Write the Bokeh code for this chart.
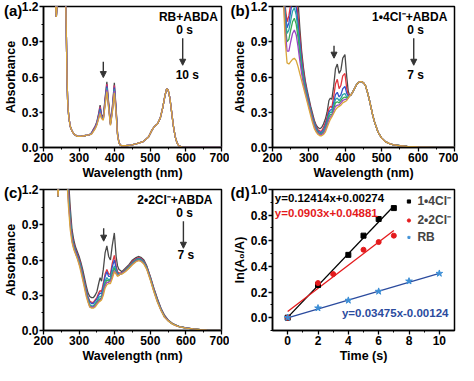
from bokeh.plotting import figure
from bokeh.layouts import column, row
from bokeh.models import Range1d, FixedTicker, Label, Arrow, NormalHead, Legend, LegendItem, CustomJSTickFormatter
from bokeh.core.properties import value
from bokeh.embed import file_html
from bokeh.resources import INLINE

FONT = "Liberation Sans"

# ---------------- data ----------------
mid_wl = [330, 335, 340, 345, 350, 355, 359, 363, 368, 373, 378, 383, 388, 393, 399, 404, 408, 412, 416]

a_left_wl = [230, 233, 236, 239, 242, 246, 255, 262, 264, 266, 268, 271, 275, 280, 287, 296, 305, 315, 323]
a_left_abs = [1.6, 1.25, 1.11, 1.25, 1.5, 1.6, 1.6, 1.3, 1.0, 0.6, 0.38, 0.26, 0.18, 0.14, 0.11, 0.095, 0.095, 0.1, 0.105]
a_mid = [
    [0.11, 0.125, 0.155, 0.18, 0.22, 0.29, 0.36, 0.28, 0.26, 0.42, 0.56, 0.38, 0.21, 0.33, 0.55, 0.33, 0.12, 0.04, 0.02],
    [0.11, 0.122, 0.15, 0.175, 0.213, 0.28, 0.345, 0.272, 0.253, 0.405, 0.54, 0.37, 0.205, 0.32, 0.53, 0.32, 0.117, 0.04, 0.02],
    [0.11, 0.12, 0.146, 0.17, 0.207, 0.27, 0.33, 0.265, 0.247, 0.39, 0.52, 0.36, 0.2, 0.31, 0.51, 0.31, 0.114, 0.04, 0.02],
    [0.11, 0.118, 0.142, 0.166, 0.202, 0.262, 0.315, 0.258, 0.242, 0.38, 0.505, 0.35, 0.196, 0.302, 0.495, 0.3, 0.111, 0.04, 0.02],
    [0.11, 0.116, 0.139, 0.162, 0.197, 0.254, 0.302, 0.252, 0.237, 0.37, 0.49, 0.342, 0.192, 0.295, 0.48, 0.292, 0.108, 0.04, 0.02],
    [0.11, 0.114, 0.136, 0.158, 0.192, 0.246, 0.29, 0.246, 0.232, 0.36, 0.475, 0.334, 0.188, 0.288, 0.465, 0.285, 0.105, 0.04, 0.02],
]
a_right_wl = [420, 430, 445, 460, 480, 495, 505, 512, 520, 528, 535, 541, 546, 550, 555, 560, 565, 570, 575, 580, 590, 700]
a_right_abs = [0.015, 0.015, 0.02, 0.03, 0.05, 0.09, 0.15, 0.18, 0.2, 0.25, 0.34, 0.44, 0.5, 0.49, 0.42, 0.3, 0.18, 0.09, 0.04, 0.015, 0.003, 0.0]

b_left_wl = [230, 235, 240, 245, 250, 255, 260, 265, 270, 275, 280, 285, 290, 295, 300, 305, 310, 315, 320, 325]
b_left = [
    [1.6, 1.4, 1.3, 1.35, 1.45, 1.55, 1.6, 1.45, 1.25, 1.02, 0.82, 0.68, 0.57, 0.49, 0.42, 0.35, 0.29, 0.23, 0.19, 0.17],
    [1.5, 1.2, 1.07, 1.12, 1.22, 1.32, 1.35, 1.27, 1.12, 0.95, 0.78, 0.65, 0.55, 0.47, 0.4, 0.33, 0.27, 0.22, 0.18, 0.15],
    [1.45, 1.15, 1.02, 1.06, 1.16, 1.25, 1.28, 1.2, 1.06, 0.9, 0.74, 0.62, 0.53, 0.46, 0.39, 0.32, 0.26, 0.21, 0.17, 0.14],
    [1.4, 1.1, 0.97, 1.0, 1.08, 1.16, 1.19, 1.13, 1.0, 0.85, 0.7, 0.6, 0.51, 0.44, 0.37, 0.31, 0.25, 0.2, 0.16, 0.13],
    [1.35, 1.05, 0.9, 0.92, 1.0, 1.07, 1.1, 1.05, 0.94, 0.8, 0.67, 0.57, 0.49, 0.42, 0.36, 0.3, 0.24, 0.19, 0.15, 0.125],
    [1.3, 1.0, 0.82, 0.82, 0.9, 0.97, 1.0, 0.96, 0.86, 0.74, 0.63, 0.54, 0.47, 0.41, 0.35, 0.29, 0.23, 0.18, 0.14, 0.12],
    [1.25, 0.9, 0.72, 0.71, 0.73, 0.75, 0.76, 0.74, 0.69, 0.63, 0.57, 0.51, 0.45, 0.39, 0.33, 0.27, 0.21, 0.16, 0.13, 0.11],
]
b_mid = [
    [0.16, 0.17, 0.2, 0.24, 0.3, 0.4, 0.42, 0.41, 0.52, 0.67, 0.71, 0.63, 0.66, 0.76, 0.79, 0.6, 0.48, 0.44, 0.45],
    [0.14, 0.14, 0.17, 0.21, 0.26, 0.33, 0.35, 0.34, 0.43, 0.54, 0.58, 0.5, 0.53, 0.61, 0.63, 0.5, 0.45, 0.44, 0.45],
    [0.13, 0.13, 0.15, 0.19, 0.24, 0.3, 0.32, 0.32, 0.38, 0.45, 0.47, 0.43, 0.45, 0.5, 0.52, 0.46, 0.44, 0.44, 0.45],
    [0.12, 0.12, 0.14, 0.17, 0.22, 0.28, 0.3, 0.3, 0.35, 0.41, 0.42, 0.4, 0.42, 0.45, 0.46, 0.43, 0.43, 0.44, 0.45],
    [0.115, 0.115, 0.13, 0.16, 0.21, 0.26, 0.28, 0.28, 0.33, 0.38, 0.39, 0.38, 0.4, 0.42, 0.43, 0.42, 0.43, 0.44, 0.45],
    [0.11, 0.11, 0.12, 0.15, 0.19, 0.24, 0.26, 0.27, 0.31, 0.35, 0.36, 0.36, 0.38, 0.4, 0.41, 0.41, 0.42, 0.44, 0.45],
    [0.1, 0.1, 0.11, 0.13, 0.17, 0.21, 0.24, 0.26, 0.29, 0.32, 0.34, 0.35, 0.36, 0.38, 0.39, 0.4, 0.42, 0.44, 0.45],
]
b_right_wl = [420, 425, 430, 435, 440, 445, 450, 455, 460, 465, 470, 475, 480, 490, 500, 510, 520, 530, 550, 570, 600, 650, 700]
b_right_abs = [0.47, 0.5, 0.53, 0.55, 0.56, 0.56, 0.55, 0.53, 0.48, 0.42, 0.35, 0.28, 0.22, 0.13, 0.08, 0.05, 0.035, 0.025, 0.015, 0.01, 0.005, 0.0, 0.0]

c_left_wl = [238, 241, 244, 247, 250, 260, 265, 270, 275, 280, 285, 290, 295, 300, 305, 310, 315, 320, 325]
c_left = [
    [1.3, 1.14, 1.3, 1.5, 1.6, 1.6, 1.5, 1.3, 1.05, 0.86, 0.77, 0.71, 0.67, 0.63, 0.58, 0.52, 0.45, 0.38, 0.32],
    [1.3, 1.14, 1.3, 1.5, 1.6, 1.55, 1.42, 1.22, 0.98, 0.82, 0.74, 0.69, 0.65, 0.61, 0.56, 0.49, 0.42, 0.35, 0.29],
    [1.3, 1.14, 1.3, 1.5, 1.6, 1.53, 1.4, 1.19, 0.96, 0.8, 0.73, 0.68, 0.64, 0.6, 0.55, 0.48, 0.41, 0.34, 0.28],
    [1.3, 1.14, 1.3, 1.5, 1.6, 1.52, 1.38, 1.16, 0.94, 0.79, 0.72, 0.67, 0.63, 0.59, 0.54, 0.47, 0.4, 0.33, 0.27],
    [1.3, 1.14, 1.3, 1.5, 1.6, 1.51, 1.36, 1.13, 0.92, 0.78, 0.71, 0.66, 0.62, 0.58, 0.53, 0.46, 0.39, 0.32, 0.26],
    [1.3, 1.14, 1.3, 1.5, 1.6, 1.5, 1.34, 1.1, 0.9, 0.77, 0.7, 0.66, 0.62, 0.57, 0.52, 0.45, 0.38, 0.31, 0.25],
    [1.3, 1.14, 1.3, 1.5, 1.6, 1.5, 1.32, 1.06, 0.86, 0.75, 0.69, 0.65, 0.61, 0.56, 0.5, 0.43, 0.36, 0.29, 0.24],
]
c_mid = [
    [0.29, 0.28, 0.28, 0.3, 0.33, 0.4, 0.45, 0.42, 0.52, 0.66, 0.72, 0.63, 0.6, 0.72, 0.83, 0.63, 0.55, 0.52, 0.51],
    [0.25, 0.24, 0.24, 0.26, 0.28, 0.32, 0.34, 0.33, 0.4, 0.48, 0.52, 0.48, 0.48, 0.57, 0.64, 0.55, 0.5, 0.49, 0.49],
    [0.24, 0.23, 0.23, 0.25, 0.27, 0.3, 0.32, 0.31, 0.38, 0.46, 0.5, 0.46, 0.46, 0.54, 0.6, 0.53, 0.49, 0.48, 0.48],
    [0.22, 0.21, 0.21, 0.23, 0.25, 0.28, 0.29, 0.29, 0.35, 0.42, 0.45, 0.43, 0.44, 0.5, 0.55, 0.51, 0.48, 0.48, 0.48],
    [0.21, 0.2, 0.2, 0.22, 0.24, 0.26, 0.27, 0.28, 0.33, 0.4, 0.43, 0.42, 0.43, 0.48, 0.53, 0.5, 0.47, 0.47, 0.48],
    [0.2, 0.2, 0.2, 0.21, 0.23, 0.25, 0.26, 0.27, 0.32, 0.38, 0.41, 0.41, 0.42, 0.46, 0.51, 0.49, 0.47, 0.47, 0.48],
    [0.2, 0.19, 0.19, 0.2, 0.22, 0.24, 0.25, 0.26, 0.3, 0.36, 0.39, 0.4, 0.4, 0.44, 0.5, 0.48, 0.46, 0.47, 0.48],
]
c_right_wl = [420, 430, 440, 450, 460, 468, 475, 482, 490, 500, 510, 520, 530, 540, 550, 560, 570, 580, 600, 620, 640, 660, 680, 700]
c_right = [
    [0.5, 0.53, 0.56, 0.6, 0.62, 0.63, 0.62, 0.6, 0.55, 0.46, 0.36, 0.27, 0.19, 0.13, 0.09, 0.065, 0.048, 0.036, 0.022, 0.014, 0.008, 0.004, 0.001, 0.0],
    [0.49, 0.52, 0.55, 0.59, 0.61, 0.62, 0.61, 0.59, 0.545, 0.455, 0.355, 0.265, 0.185, 0.125, 0.088, 0.063, 0.047, 0.035, 0.022, 0.014, 0.008, 0.004, 0.001, 0.0],
    [0.49, 0.515, 0.545, 0.58, 0.605, 0.615, 0.605, 0.585, 0.54, 0.45, 0.35, 0.26, 0.18, 0.12, 0.086, 0.062, 0.046, 0.035, 0.022, 0.014, 0.008, 0.004, 0.001, 0.0],
    [0.485, 0.51, 0.54, 0.575, 0.6, 0.61, 0.6, 0.58, 0.535, 0.445, 0.345, 0.255, 0.178, 0.118, 0.085, 0.061, 0.045, 0.034, 0.021, 0.013, 0.008, 0.004, 0.001, 0.0],
    [0.485, 0.51, 0.535, 0.57, 0.595, 0.605, 0.595, 0.575, 0.53, 0.44, 0.34, 0.25, 0.175, 0.116, 0.084, 0.06, 0.045, 0.034, 0.021, 0.013, 0.008, 0.004, 0.001, 0.0],
    [0.485, 0.505, 0.53, 0.565, 0.59, 0.6, 0.59, 0.57, 0.525, 0.435, 0.335, 0.245, 0.172, 0.114, 0.083, 0.06, 0.044, 0.033, 0.021, 0.013, 0.008, 0.004, 0.001, 0.0],
    [0.48, 0.5, 0.53, 0.56, 0.585, 0.595, 0.585, 0.565, 0.52, 0.43, 0.33, 0.24, 0.17, 0.112, 0.082, 0.059, 0.044, 0.033, 0.021, 0.013, 0.008, 0.004, 0.001, 0.0],
]

t_14 = [0, 2, 4, 5, 6, 7]
ln_14 = [0.0, 0.255, 0.49, 0.64, 0.77, 0.855]
t_22 = [0, 2, 3, 5, 6, 7]
ln_22 = [0.0, 0.27, 0.34, 0.53, 0.59, 0.64]
t_rb = [0, 2, 4, 6, 8, 10]
ln_rb = [0.0, 0.075, 0.135, 0.205, 0.285, 0.345]
fit_14 = (0.12414, 0.00274)
fit_22 = (0.0903, 0.04881)
fit_rb = (0.03475, -0.00124)
fit_14_span = [0, 7]
fit_22_span = [0, 7]
fit_rb_span = [0, 10]

wl_ticks = [200, 300, 400, 500, 600, 700]
abs_ticks = [0.0, 0.3, 0.6, 0.9, 1.2]
t_ticks = [0, 2, 4, 6, 8, 10]
ln_ticks = [0.0, 0.2, 0.4, 0.6, 0.8, 1.0]

COL7 = ["#4a4a4a", "#e3343c", "#3352cc", "#2aa3a8", "#3aab57", "#9b46c4", "#d9a63c"]
COL6 = ["#4a4a4a", "#d8336e", "#3352cc", "#2aa3a8", "#9b46c4", "#d9a63c"]


def make_fig(w, h, bl, br, bt, bb, xr, yr, xt, xmt, yt, ymt, xlabel, ylabel):
    p = figure(width=w, height=h, x_range=Range1d(*xr), y_range=Range1d(*yr),
               output_backend="svg", toolbar_location=None,
               min_border_left=bl, min_border_right=br, min_border_top=bt, min_border_bottom=bb)
    p.grid.visible = False
    p.outline_line_color = "black"
    p.outline_line_width = 1.5
    p.outline_line_alpha = 1.0
    p.xaxis.ticker = FixedTicker(ticks=xt, minor_ticks=xmt)
    p.yaxis.ticker = FixedTicker(ticks=yt, minor_ticks=ymt)
    p.yaxis.formatter = CustomJSTickFormatter(code="return tick.toFixed(1);")
    p.xaxis.axis_label = xlabel
    p.yaxis.axis_label = ylabel
    for ax in p.axis:
        ax.axis_line_width = 1.5
        ax.major_tick_line_width = 1.3
        ax.minor_tick_line_width = 1.0
        ax.major_tick_in = 0
        ax.major_tick_out = 4
        ax.minor_tick_in = 0
        ax.minor_tick_out = 2
        ax.major_label_text_font = FONT
        ax.major_label_text_font_style = "bold"
        ax.major_label_text_font_size = "12px"
        ax.major_label_text_color = "black"
        ax.major_label_standoff = 1
        ax.axis_label_text_font = FONT
        ax.axis_label_text_font_style = "bold"
        ax.axis_label_text_font_size = "12.5px"
        ax.axis_label_text_color = "black"
        ax.axis_label_standoff = 1
    return p


def txt(p, x, y, s, size="12px", color="black", align="center", baseline="middle"):
    p.add_layout(Label(x=x, y=y, text=s, text_font=FONT,
                       text_font_style="bold", text_font_size=size, text_color=color,
                       text_align=align, text_baseline=baseline))


def tag(p, x, y, s):
    # panel letter drawn as an unclipped text glyph in the top-left margin
    p.text(x=[x], y=[y], text=[s], text_font=value(FONT), text_font_style="bold",
           text_font_size="15px", text_align="left", text_baseline="top", level="overlay")


def arrow(p, x, y0, y1):
    p.add_layout(Arrow(x_start=x, y_start=y0, x_end=x, y_end=y1, line_color="#333333", line_width=1.4,
                       end=NormalHead(size=6, fill_color="#333333", line_color="#333333")))


W1, W2 = 229, 229
H1, H2 = 182, 183
BL1, BR1 = 41, 8
BL2, BR2 = 43, 4
BT1, BT2 = 6, 7
BB = 35
FW1, FW2 = W1 - BL1 - BR1, W2 - BL2 - BR2
FH1, FH2 = H1 - BT1 - BB, H2 - BT2 - BB

wl_minor = [250, 350, 450, 550, 650]
abs_minor = [0.15, 0.45, 0.75, 1.05]


def spectra_panel(w, h, bl, br, bt, left_wl, lefts, mids, right_wl, rights, colors, letter, fw, fh):
    p = make_fig(w, h, bl, br, bt, BB, (200, 700), (0, 1.2), wl_ticks, wl_minor, abs_ticks, abs_minor,
                 "Wavelength (nm)", "Absorbance")
    wl = left_wl + mid_wl + right_wl
    for lft, m, r, c in zip(lefts, mids, rights, colors):
        p.line(wl, lft + m + r, line_color=c, line_width=1.3)
    tag(p, 200 - (bl - 1) * 500 / fw, 1.2 + (bt - 1) * 1.2 / fh, letter)
    return p


pa = spectra_panel(W1, H1, BL1, BR1, BT1, a_left_wl, [a_left_abs] * len(a_mid), a_mid,
                   a_right_wl, [a_right_abs] * len(a_mid), COL6, "(a)", FW1, FH1)
txt(pa, 607, 1.11, "RB+ABDA")
txt(pa, 596, 0.996, "0 s")
arrow(pa, 591, 0.93, 0.70)
txt(pa, 604, 0.62, "10 s")
arrow(pa, 368, 0.73, 0.595)

pb = spectra_panel(W2, H1, BL2, BR2, BT1, b_left_wl, b_left, b_mid,
                   b_right_wl, [b_right_abs] * len(b_mid), COL7, "(b)", FW2, FH1)
txt(pb, 577, 1.11, "1•4Cl⁻+ABDA")
txt(pb, 593, 0.996, "0 s")
arrow(pb, 588, 0.93, 0.70)
txt(pb, 593, 0.62, "7 s")
arrow(pb, 369, 0.865, 0.76)

pc = spectra_panel(W1, H2, BL1, BR1, BT2, c_left_wl, c_left, c_mid,
                   c_right_wl, c_right, COL7, "(c)", FW1, FH2)
txt(pc, 569, 1.11, "2•2Cl⁻+ABDA")
txt(pc, 596, 0.996, "0 s")
arrow(pc, 593, 0.93, 0.70)
txt(pc, 600, 0.64, "7 s")
arrow(pc, 369, 0.87, 0.76)

pd = make_fig(W2, H2, BL2, BR2, BT2, BB, (-1, 11), (-0.1, 1.0), t_ticks, [1, 3, 5, 7, 9],
              ln_ticks, [-0.1, 0.1, 0.3, 0.5, 0.7, 0.9], "Time (s)", "ln(A₀/A)")
RED = "#e41a1c"
NAVY = "#2b4b9e"
for (k, b0), span, col in ((fit_14, fit_14_span, "black"), (fit_22, fit_22_span, RED), (fit_rb, fit_rb_span, NAVY)):
    pd.line(span, [k * s + b0 for s in span], line_color=col, line_width=1.3)
r1 = pd.scatter(t_14, ln_14, marker="square", size=5, fill_color="black", line_color="black")
r2 = pd.scatter(t_22, ln_22, marker="circle", size=5, fill_color=RED, line_color=RED)
r3 = pd.scatter(t_rb, ln_rb, marker="star", size=7, fill_color="#3d8fd6", line_color="#3d8fd6")
leg = Legend(items=[LegendItem(label="1•4Cl⁻", renderers=[r1]),
                    LegendItem(label="2•2Cl⁻", renderers=[r2]),
                    LegendItem(label="RB", renderers=[r3])],
             location="top_right", border_line_alpha=0, background_fill_alpha=0,
             label_text_font=FONT, label_text_font_style="bold", label_text_font_size="12px",
             glyph_width=8, glyph_height=8, label_standoff=5, spacing=2, padding=1, margin=2,
             label_height=14)
pd.add_layout(leg)
txt(pd, -0.85, 0.933, "y=0.12414x+0.00274", size="11.5px", align="left")
txt(pd, -0.85, 0.82, "y=0.0903x+0.04881", size="11.5px", color=RED, align="left")
txt(pd, 10.6, 0.035, "y=0.03475x-0.00124", size="11.5px", color=NAVY, align="right")
tag(pd, -1 - (BL2 - 1) * 12 / FW2, 1.0 + (BT2 - 1) * 1.1 / FH2, "(d)")

layout = column(row(pa, pb), row(pc, pd))
open("out.html", "w").write(file_html(layout, INLINE))
